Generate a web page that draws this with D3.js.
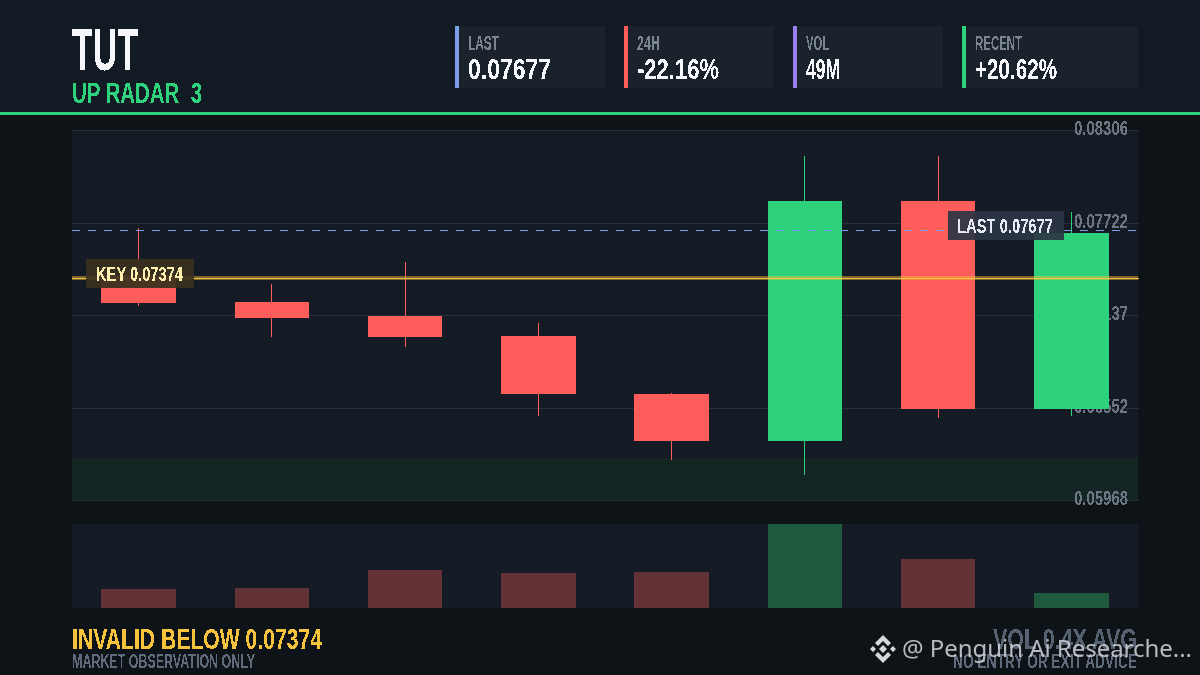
<!DOCTYPE html>
<html><head><meta charset="utf-8">
<script src="https://cdn.jsdelivr.net/npm/d3@7/dist/d3.min.js"></script>
<style>html,body{margin:0;padding:0;background:#0e1318}svg{display:block}text{white-space:pre}</style>
</head><body><svg id="c" width="1200" height="675"></svg>
<script>
const categories=["C1","C2","C3","C4","C5","C6","C7","C8"];
const opens =[0.07390,0.07219,0.07131,0.07004,0.06638,0.06341,0.07857,0.06543];
const closes=[0.07213,0.07118,0.06998,0.06638,0.06341,0.07857,0.06543,0.07655];
const highs =[0.07690,0.07333,0.07472,0.07086,0.06644,0.08142,0.08142,0.07788];
const lows  =[0.07194,0.06998,0.06935,0.06499,0.06221,0.06126,0.06486,0.06499];
const volumes=[19,20,38,35,36,84,49,15];
const priceTicks=[0.08306,0.07722,0.07137,0.06552,0.05968];
const tickLabels=["0.08306","0.07722","0.07137","0.06552","0.05968"];
const lastPrice=0.07677, keyPrice=0.07374, zoneTop=0.06233;
const cards=[["LAST","0.07677","#7b9ee8"],["24H","-22.16%","#ff5c5c"],["VOL","49M","#9a80f0"],["RECENT","+20.62%","#2fd27c"]];

const GREEN="#2fd27c",RED="#ff5c5c",GRAY="#6b7683",YEL="#f8c33c";
const svg=d3.select("#c");
const defs=svg.append("defs");
const f=defs.append("filter").attr("id","px").attr("x","-5%").attr("y","-20%").attr("width","110%").attr("height","140%")
 .attr("color-interpolation-filters","sRGB");
f.append("feComponentTransfer").append("feFuncA").attr("type","discrete").attr("tableValues","0 0 1 1");

const y=d3.scaleLinear().domain([0.08306,0.05968]).range([130,500]);
const x=d3.scaleBand().domain(categories).range([72,1138]).paddingInner(0.44).paddingOuter(0.22);
const vy=d3.scaleLinear().domain([0,84]).range([608,524]);
const ry=v=>Math.round(y(v)+0.2);

function T(g,s,x0,x1,base,cap,col,w){
  return g.append("text").text(s).attr("x",x0).attr("y",base)
   .attr("font-family","'Liberation Sans'").attr("font-weight",w||"bold")
   .attr("font-size",cap/0.716).attr("fill",col)
   .attr("textLength",x1-x0).attr("lengthAdjust","spacingAndGlyphs").attr("filter","url(#px)");
}
const R=(g,a,b,c,d,col,op)=>g.append("rect").attr("x",a).attr("y",b).attr("width",c-a).attr("height",d-b).attr("fill",col).attr("opacity",op==null?1:op);

// backgrounds
R(svg,0,0,1200,675,"#0e1318");
R(svg,0,0,1200,112,"#121a24");
R(svg,0,112,1200,115,GREEN);
R(svg,72,130,1138,500,"#141b25");
R(svg,72,ry(zoneTop),1138,500,"#152524");

// header
T(svg,"TUT",72,138,70,42,"#f5f7fb");
T(svg,"UP RADAR  3",72,202,103,21,GREEN);
const cardX=[[455,605,499,551],[624,774,660,719],[793,943,829,840],[962,1138,1022,1057]];
cards.forEach((c,i)=>{
  const p=cardX[i];
  R(svg,p[0],26,p[1],88,"#1a222c");
  R(svg,p[0],26,p[0]+4,88,c[2]);
  T(svg,c[0],p[0]+13,p[2],50,14,"#7a8591");
  T(svg,c[1],p[0]+13,p[3],79,21,"#f5f7fb");
});

// grid + tick labels
priceTicks.forEach((v,i)=>{
  R(svg,72,ry(v),1139,ry(v)+1,"#272f3c");
  T(svg,tickLabels[i],1074,1128,ry(v)+5,14,GRAY);
});

// candles
const gc=svg.append("g");
categories.forEach((c,i)=>{
  const col=closes[i]>=opens[i]?GREEN:RED;
  const x0=Math.round(x(c)), x1=Math.round(x(c)+x.bandwidth()), cx=Math.floor(x(c)+x.bandwidth()/2);
  R(gc,cx,ry(highs[i]),cx+1,ry(lows[i]),col);
  R(gc,x0,ry(Math.max(opens[i],closes[i])),x1,ry(Math.min(opens[i],closes[i])),col);
});

// reference lines
const ly=ry(lastPrice)+0.5;
svg.append("line").attr("x1",72).attr("x2",1138).attr("y1",ly).attr("y2",ly)
 .attr("stroke","#7b9ee8").attr("stroke-width",1).attr("stroke-dasharray","8 8");
const ky=ry(keyPrice);
R(svg,72,ky-2,1138,ky+2,YEL,0.45);
R(svg,72,ky,1139,ky+1,YEL,0.95);

// labels on lines
R(svg,86,259,194,288,"#3a3120",0.92);
T(svg,"KEY 0.07374",96,183,281,15,"#fff0b0");
R(svg,948,211,1064,240,"#2b3544",0.92);
T(svg,"LAST 0.07677",957,1053,233,15,"#e6ebf5");

// volume
R(svg,72,524,1138,608,"#141b25");
categories.forEach((c,i)=>{
  R(svg,Math.round(x(c)),vy(volumes[i]),Math.round(x(c)+x.bandwidth()),608,closes[i]>=opens[i]?"#1f5a3f":"#633237");
});

// footer
T(svg,"INVALID BELOW 0.07374",72,322,649,21,YEL);
T(svg,"MARKET OBSERVATION ONLY",72,255,668,14,"#5f6b7a");
T(svg,"VOL 0.4X AVG",993,1137,649,21,"#566271");
T(svg,"NO ENTRY OR EXIT ADVICE",953,1137,668,14,"#5f6b7a");

// watermark
const wm=svg.append("g").attr("fill","#d4d7dc");
const lg=wm.append("g").attr("transform","translate(883,649)");
lg.append("path").attr("d","M0,-4L4,0L0,4L-4,0Z M-10,-3L-7,0L-10,3L-13,0Z M10,-3L13,0L10,3L7,0Z M0,-14L8,-6L5,-3L0,-8L-5,-3L-8,-6Z M0,14L8,6L5,3L0,8L-5,3L-8,6Z");
wm.append("text").text("@ Penguin Ai Researche...").attr("x",902).attr("y",657)
  .attr("font-family","'Noto Sans'").attr("font-size",24).attr("textLength",290).attr("lengthAdjust","spacing").attr("opacity",0.85);
</script></body></html>
